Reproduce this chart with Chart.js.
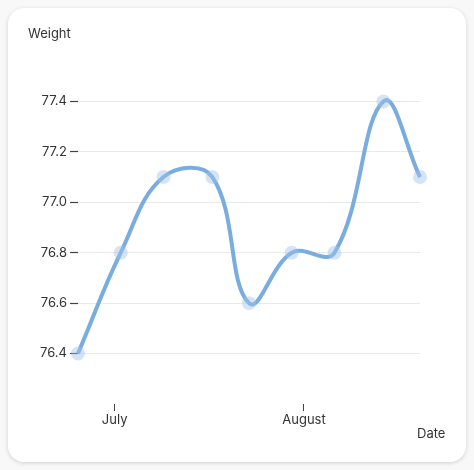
<!DOCTYPE html>
<html>
<head>
<meta charset="utf-8">
<script src="https://cdn.jsdelivr.net/npm/chart.js@4.4.0/dist/chart.umd.min.js"></script>
<style>
  html, body { margin: 0; padding: 0; background: #f8f8f8; }
  body { width: 474px; height: 470px; position: relative; overflow: hidden; }
  #card { position: absolute; left: 8px; top: 8px; width: 458px; height: 454px; background: #fff;
          border-radius: 16px; box-shadow: 0 1px 4px rgba(0,0,0,0.16); }
  #wrap { position: absolute; left: 0; top: 0; width: 474px; height: 470px; }
</style>
</head>
<body>
<div id="card"></div>
<div id="wrap"><canvas id="c"></canvas></div>
<script>
const dates = ['2023-06-25','2023-07-02','2023-07-09','2023-07-17','2023-07-23','2023-07-30','2023-08-06','2023-08-14','2023-08-20'];
const weights = [76.4, 76.8, 77.1, 77.1, 76.6, 76.8, 76.8, 77.4, 77.1];
const yTicks = [76.4, 76.6, 76.8, 77.0, 77.2, 77.4];
const yTickLabels = ['76.4', '76.6', '76.8', '77.0', '77.2', '77.4'];
const xTickDates = ['2023-07-01', '2023-08-01'];
const xTickLabels = ['July', 'August'];
const yTitle = 'Weight';
const xTitle = 'Date';

const toMs = s => Date.parse(s + 'T00:00:00Z');
const points = dates.map((d, i) => ({ x: toMs(d), y: weights[i] }));
const xTickValues = xTickDates.map(toMs);

const FONT = 'Inter, "Noto Sans", sans-serif';
const TEXT = '#333333';

const titlesPlugin = {
  id: 'titles',
  afterDraw(chart) {
    const ctx = chart.ctx;
    const a = chart.chartArea;
    ctx.save();
    ctx.font = '13px ' + FONT;
    ctx.fillStyle = TEXT;
    ctx.textBaseline = 'alphabetic';
    ctx.textAlign = 'left';
    ctx.fillText(yTitle, 28, 38);
    ctx.fillText(xTitle, a.right - 3, 438);
    ctx.restore();
  }
};

new Chart(document.getElementById('c'), {
  type: 'line',
  data: {
    datasets: [{
      data: points,
      borderColor: '#79acdf',
      borderWidth: 4,
      tension: 0.4,
      clip: false,
      pointRadius: 7,
      pointHoverRadius: 7,
      pointBackgroundColor: 'rgba(160,196,236,0.45)',
      pointBorderWidth: 0,
      pointBorderColor: 'rgba(0,0,0,0)',
      fill: false
    }]
  },
  options: {
    responsive: true,
    maintainAspectRatio: false,
    animation: false,
    layout: { padding: { left: 28, right: 54, top: 51, bottom: 0 } },
    plugins: { legend: { display: false }, tooltip: { enabled: false }, title: { display: false } },
    scales: {
      x: {
        type: 'linear',
        min: points[0].x,
        max: points[points.length - 1].x,
        afterBuildTicks: s => { s.ticks = xTickValues.map(v => ({ value: v })); },
        afterFit: s => { s.height = 66; },
        border: { display: false },
        grid: { drawOnChartArea: false, drawTicks: true, tickLength: 7, tickColor: '#444', tickWidth: 1 },
        ticks: {
          autoSkip: false, maxRotation: 0, padding: 1,
          color: TEXT, font: { family: FONT, size: 13 },
          callback: (v, i) => xTickLabels[i]
        }
      },
      y: {
        min: 76.2,
        max: 77.6,
        afterBuildTicks: s => { s.ticks = yTicks.map(v => ({ value: v })); },
        afterFit: s => { s.width = 50; },
        border: { display: false },
        grid: { color: '#e9e9e9', lineWidth: 1, tickLength: 8, tickColor: '#444', tickWidth: 1.2 },
        ticks: {
          padding: 3, color: TEXT, font: { family: FONT, size: 13 },
          callback: (v, i) => yTickLabels[i]
        }
      }
    }
  },
  plugins: [titlesPlugin]
});
</script>
</body>
</html>
